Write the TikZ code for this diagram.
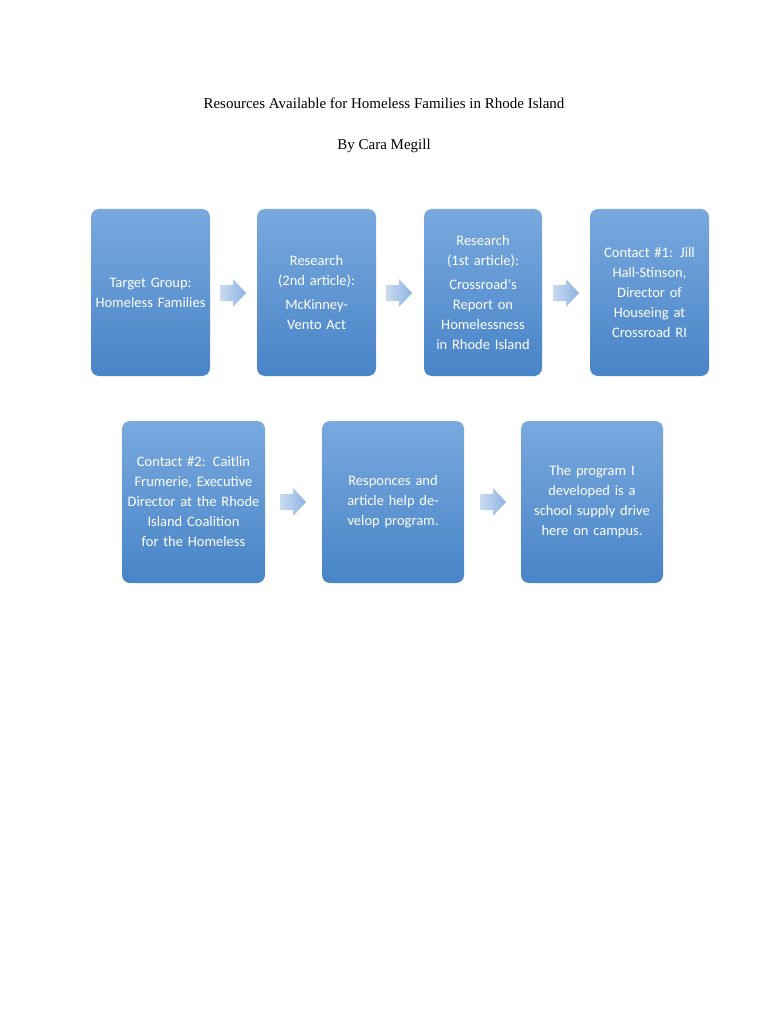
\documentclass[tikz,border=0pt]{standalone}
\usepackage{fontspec}
\setmainfont{Liberation Serif}
\newfontfamily\boxfont{Carlito}
\begin{document}
\begin{tikzpicture}[x=1pt,y=-1pt,
  blkbg/.style={rounded corners=8pt,top color=blue1,bottom color=blue2,draw=none},
  blktxt/.style={text=white,align=center,font=\boxfont\fontsize{14.5}{20}\selectfont,inner sep=3pt},
  ttl/.style={font=\fontsize{15}{18}\selectfont}]
\definecolor{blue1}{HTML}{79A9DE}
\definecolor{blue2}{HTML}{4884C8}
\definecolor{arr1}{HTML}{C9DAF0}
\definecolor{arr2}{HTML}{8DB3E2}
\useasboundingbox[fill=white] (0,0) rectangle (768,1024);
\node[ttl] (t1) at (384,103) {Resources Available for Homeless Families in Rhode Island};
\node[ttl] (t2) at (384,146) {By Cara Megill};
\newcommand\bx[6]{\path[blkbg] (#2,#3) rectangle (#4,#5); \node[blktxt,text width=#4pt-#2pt-8pt] (#1) at ({(#2+#4)/2},{(#3+#5)/2}) {#6};}
\newcommand\ar[3]{\shade[left color=arr1,right color=arr2] (#2-13,#3-8) -- (#2,#3-8) -- (#2,#3-14) -- (#2+13,#3) -- (#2,#3+14) -- (#2,#3+8) -- (#2-13,#3+8) -- cycle; \coordinate (#1) at (#2,#3);}
\bx{b1}{91}{209}{210}{376}{Target Group: Homeless Families}
\bx{b2}{257}{209}{376}{376}{Research (2nd article):\\[4pt] McKinney-Vento Act}
\bx{b3}{424}{209}{542}{376}{Research (1st article):\\[4pt] Crossroad's Report on Homelessness in Rhode Island}
\bx{b4}{590}{209}{709}{376}{Contact \#1: Jill Hall-Stinson, Director of Houseing at Crossroad RI}
\bx{b5}{122}{421}{265}{583}{Contact \#2: Caitlin Frumerie, Executive Director at the Rhode Island Coalition for the Homeless}
\bx{b6}{322}{421}{464}{583}{Responces and article help develop program.}
\bx{b7}{521}{421}{663}{583}{The program I developed is a school supply drive here on campus.}
\ar{a1}{233}{293}
\ar{a2}{399}{293}
\ar{a3}{566}{293}
\ar{a4}{293}{502}
\ar{a5}{493}{502}
\end{tikzpicture}
\end{document}
